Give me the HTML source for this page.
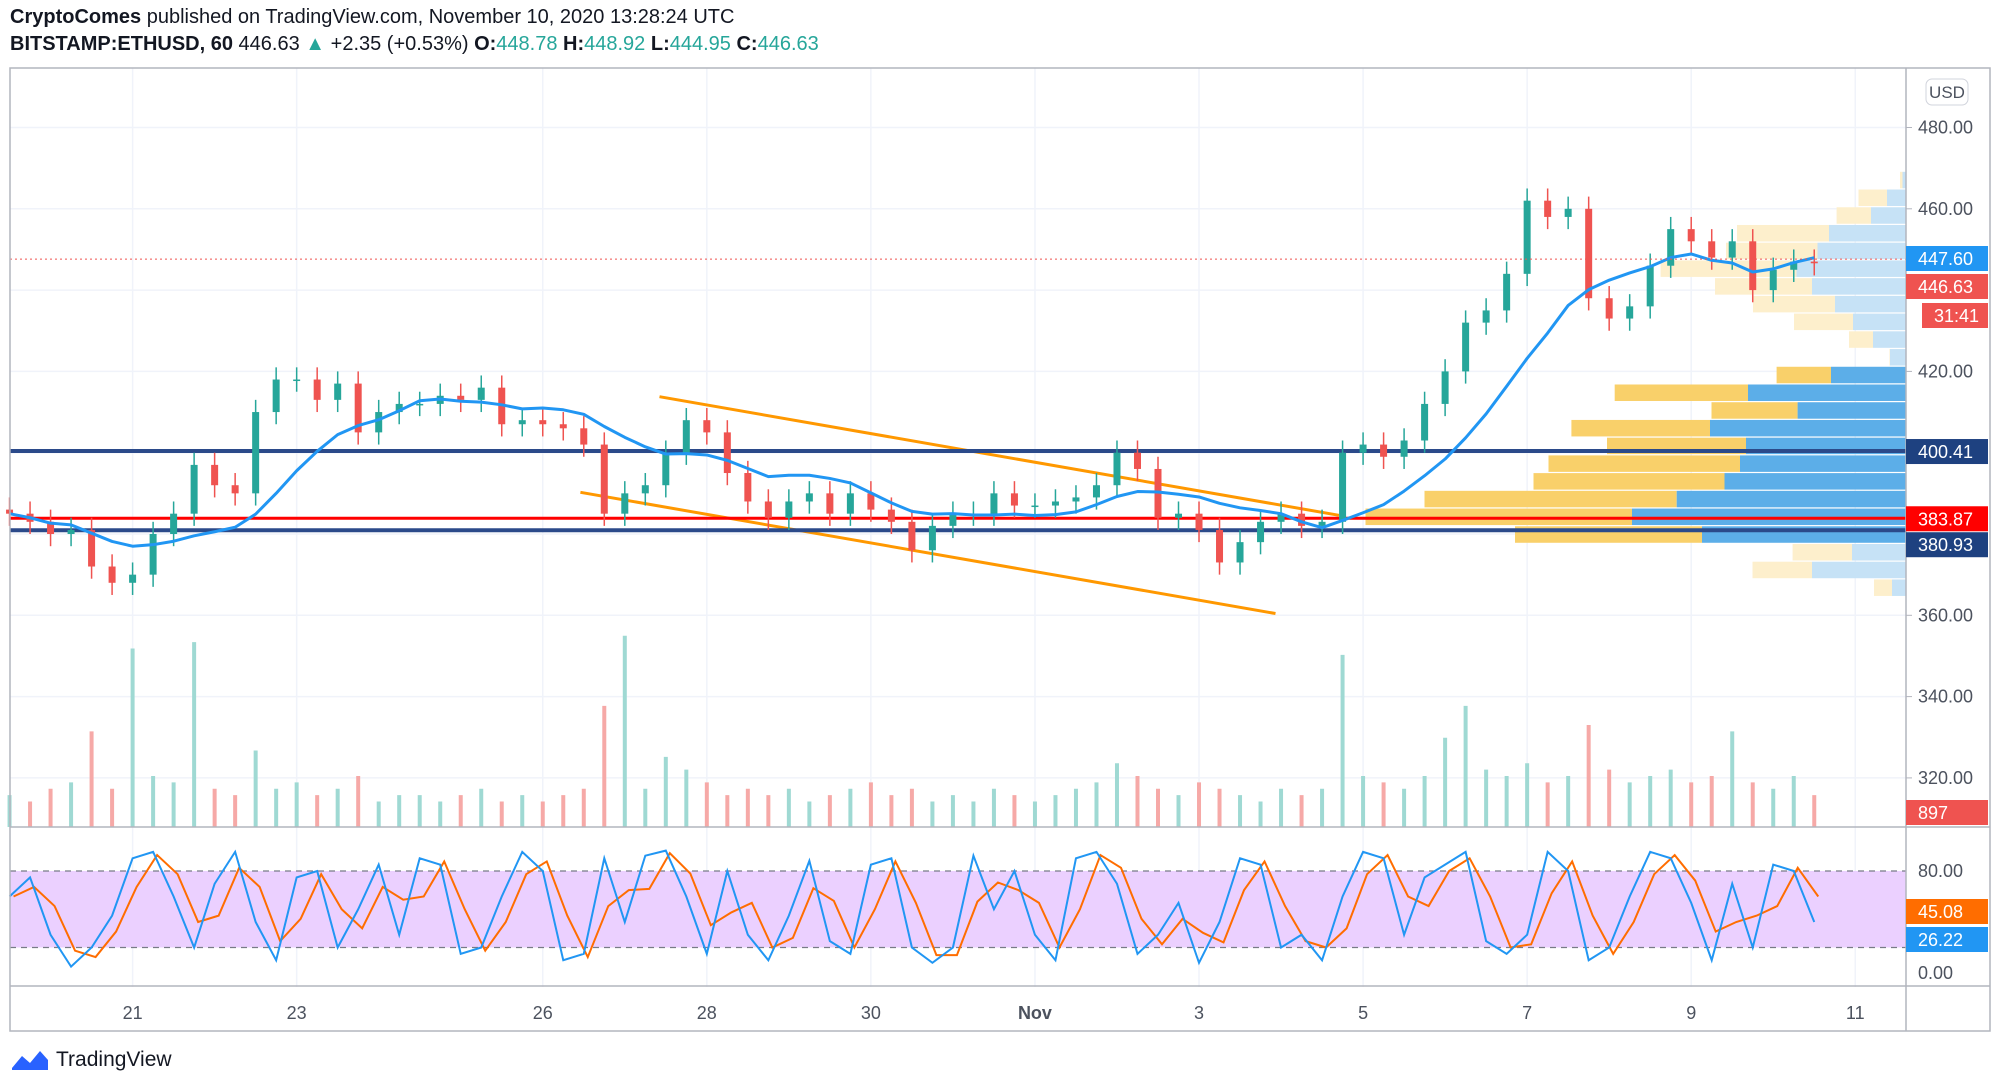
<!DOCTYPE html>
<html><head><meta charset="utf-8"><style>
html,body{margin:0;padding:0;background:#fff;}
body{width:2000px;height:1089px;overflow:hidden;font-family:"Liberation Sans",sans-serif;position:relative;}
.hdr{position:absolute;left:10px;font-size:20px;color:#131722;white-space:nowrap;}
.g{color:#26a69a;}
</style></head><body>
<div class="hdr" style="top:6px"><b>CryptoComes</b> published on TradingView.com, November 10, 2020 13:28:24 UTC</div>
<div class="hdr" style="top:33px"><b>BITSTAMP:ETHUSD, 60</b> 446.63 <span class="g">▲</span> +2.35 (+0.53%) <b>O:</b><span class="g">448.78</span> <b>H:</b><span class="g">448.92</span> <b>L:</b><span class="g">444.95</span> <b>C:</b><span class="g">446.63</span></div>
<svg id="chart" width="2000" height="1089" style="position:absolute;left:0;top:0"></svg>
<div style="position:absolute;left:10px;top:1048px;font-size:21px;color:#131722;display:flex;align-items:center">
<svg width="40" height="24" viewBox="0 0 40 24"><path d="M2 20 L12 8 L20 15 L30 3 L38 12 L38 22 L2 22Z" fill="#2962ff"/></svg><span style="margin-left:6px">TradingView</span></div>
<script>
const closes=[385,383,380,381,372,368,370,380,385,397,392,390,410,418,418,413,417,405,410,412,412,414,413,416,407,408,407,406,402,385,390,392,400,408,405,395,388,384,388,390,385,390,386,383,376,382,385,385,390,387,387,388,389,392,400,396,384,385,381,373,378,383,385,382,383,400,402,399,403,412,420,432,435,444,462,458,460,438,433,436,446,455,452,448,452,440,445,447,446.6];
const volumes=[25,20,30,35,75,30,140,40,35,145,30,25,60,30,35,25,30,40,20,25,25,20,25,30,20,25,20,25,30,95,150,30,55,45,35,25,30,25,30,20,25,30,35,25,30,20,25,20,30,25,20,25,30,35,50,40,30,25,35,30,25,20,30,25,30,135,40,35,30,40,70,95,45,40,50,35,40,80,45,35,40,45,35,40,75,35,30,40,25];
const rsiK=[60,75,30,5,20,45,90,95,60,20,70,95,40,10,75,80,20,50,85,30,90,85,15,20,60,95,80,10,15,90,40,92,96,60,15,80,30,10,45,88,25,15,85,90,20,8,20,92,50,80,30,10,90,95,70,15,30,55,8,40,90,85,20,30,10,60,95,90,30,75,85,95,25,15,30,95,80,10,20,60,95,90,55,10,70,20,85,80,40];
const dayLabels=["21","23","26","28","30","Nov","3","5","7","9","11"];
const dayHours=[0,48,120,168,216,264,312,360,408,456,504];
const priceTicks=[480,460,420,360,340,320];
const rsiTicks=[80,0];
const profTotal=[6,47.5,69.4,169,180,245.4,191,153,112,57,16.5,129.4,291.3,194.5,334.6,299,357.5,372.5,481.5,540.5,391,113.4,153.5,32];
const profUp=[3.5,19,35,77,88.5,109.5,94,71,53,33,16,75,158,108.4,196,160,166,181.5,229.3,274,204,54,94,14];
const levels=[400.41,383.87,380.93];

const S=document.getElementById('chart'),NS='http://www.w3.org/2000/svg';
function el(t,a,txt){const e=document.createElementNS(NS,t);for(const k in a)e.setAttribute(k,a[k]);if(txt!==undefined)e.textContent=txt;S.appendChild(e);return e;}
const L=10,R=1906,T=68,MB=827,RB=986,AB=1031;
const X=h=>132.6+h*3.418, Y=p=>127.5+(480-p)*4.065, RY=v=>973-v*1.275, VY=v=>MB-v*1.275;
const t0=-36,step=6;
for(const h of dayHours){const g=el('line',{x1:X(h),x2:X(h),y1:T,y2:AB-44,stroke:'#f0f3fa','stroke-width':1.5});}
for(let p=320;p<=480;p+=20){const g=el('line',{x1:L,x2:R,y1:Y(p),y2:Y(p),stroke:'#f0f3fa','stroke-width':1.5});}
const bg=el('rect',{x:L,y:RY(80),width:R-L,height:RY(20)-RY(80),fill:'#ebd0ff'});

for(const v of [80,20]){const d=el('line',{x1:L,x2:R,y1:RY(v),y2:RY(v),stroke:'#787b86','stroke-dasharray':'6 5','stroke-width':1.2});}
const rowTop=469.1,rowStep=4.36;
profTotal.forEach((tv,i)=>{const light=(i<=10||i>=21);const y=Y(rowTop-i*rowStep);
 const a=el('rect',{x:R-tv,y:y,width:tv-profUp[i],height:16.5,fill:light?'#fdefcc':'#f9d06a'});
 
 const b=el('rect',{x:R-profUp[i],y:y,width:profUp[i],height:16.5,fill:light?'#c6e2f6':'#5caee8'});
 });
closes.forEach((c,i)=>{const o=i?closes[i-1]:c;const x=X(t0+i*step);const v=volumes[i];
 const r=el('rect',{x:x-2,y:VY(v),width:4,height:v*1.275,fill:c>=o?'#9fd9d3':'#f6a9a7'});
 });
const tl=[[659.5,396.7,1339,515.3],[580.4,492.3,1275.5,613.5]];
tl.forEach((l,i)=>{const e=el('line',{x1:l[0],y1:l[1],x2:l[2],y2:l[3],stroke:'#ff9800','stroke-width':3});});
const lc=['#2b4a8a','#ff0000','#2b4a8a'];
levels.forEach((p,i)=>{const e=el('line',{x1:L,x2:R,y1:Y(p),y2:Y(p),stroke:lc[i],'stroke-width':i==1?3:4});});
closes.forEach((c,i)=>{const o=i?closes[i-1]:c+1;const x=X(t0+i*step);const col=c>=o?'#26a69a':'#ef5350';
 const hi=Math.max(o,c)+3,lo=Math.min(o,c)-3;
 const w=el('line',{x1:x,x2:x,y1:Y(hi),y2:Y(lo),stroke:col,'stroke-width':1.5});
 const b=el('rect',{x:x-3.5,y:Y(Math.max(o,c)),width:7,height:Math.max(1.5,Math.abs(Y(o)-Y(c))),fill:col});});
let pts=[];closes.forEach((c,i)=>{const s=closes.slice(Math.max(0,i-8),i+1);const m=s.reduce((a,b)=>a+b,0)/s.length;pts.push(X(t0+i*step)+','+Y(m));});
const ma=el('polyline',{points:pts.join(' '),fill:'none',stroke:'#2196f3','stroke-width':3,'stroke-linejoin':'round'});
const dl=el('line',{x1:L,x2:R,y1:Y(446.63)-4,y2:Y(446.63)-4,stroke:'#ef5350','stroke-dasharray':'2 3','stroke-width':1});
let kp=[],dp=[];rsiK.forEach((v,i)=>{const x=X(t0+i*step);kp.push(x+','+RY(v));const s=rsiK.slice(Math.max(0,i-1),i+1);dp.push((x+4)+','+RY(s.reduce((a,b)=>a+b,0)/s.length));});
const d1=el('polyline',{points:dp.join(' '),fill:'none',stroke:'#ff6d00','stroke-width':2});
const k1=el('polyline',{points:kp.join(' '),fill:'none',stroke:'#2196f3','stroke-width':2});
const fr=el('rect',{x:L,y:T,width:1990-L,height:AB-T,fill:'none',stroke:'#b2b5be','stroke-width':1.5});
const ax=el('line',{x1:R,x2:R,y1:T,y2:AB,stroke:'#b2b5be','stroke-width':1.5});
const sp=el('line',{x1:L,x2:1990,y1:MB,y2:MB,stroke:'#b2b5be','stroke-width':1.5});
const ta=el('line',{x1:L,x2:1990,y1:RB,y2:RB,stroke:'#b2b5be','stroke-width':1.5});
priceTicks.forEach(p=>{const t=el('text',{x:1918,y:Y(p)+6,'font-size':18,fill:'#4c525e','font-family':'Liberation Sans'},p.toFixed(2));el('line',{x1:R,x2:R+6,y1:Y(p),y2:Y(p),stroke:'#b2b5be'});});
rsiTicks.forEach(v=>{const t=el('text',{x:1918,y:RY(v)+6,'font-size':18,fill:'#4c525e'},v.toFixed(2));});
dayLabels.forEach((d,i)=>{const t=el('text',{x:X(dayHours[i]),y:1019,'font-size':18,fill:'#4c525e','text-anchor':'middle','font-weight':d=='Nov'?'bold':'normal'},d);});
function badge(y,txt,col,name,x0){const r=el('rect',{x:x0||R,y:y-12,width:(x0?1988-x0:82),height:25,fill:col});
 const t=el('text',{x:(x0||R)+12,y:y+7,'font-size':18,fill:'#fff'},txt);}
badge(258,'447.60','#2196f3','ma-value-badge');
badge(286,'446.63','#ef5350','last-price-badge');
badge(315,'31:41','#ef5350','countdown-badge',1922);
badge(Y(400.41),'400.41','#1e4180','level-badge-400');
badge(Y(383.87),'383.87','#ff0000','level-badge-383');
badge(Y(380.93)+14,'380.93','#1e4180','level-badge-380');
badge(812,'897','#ef5350','volume-badge');
badge(911,'45.08','#ff6d00','stoch-d-badge');
badge(939,'26.22','#2196f3','stoch-k-badge');
const ub=el('rect',{x:1926,y:79,width:42,height:26,rx:6,fill:'#fff',stroke:'#d1d4dc'});
const ut=el('text',{x:1947,y:98,'font-size':17,fill:'#4c525e','text-anchor':'middle'},'USD');
</script>
</body></html>
